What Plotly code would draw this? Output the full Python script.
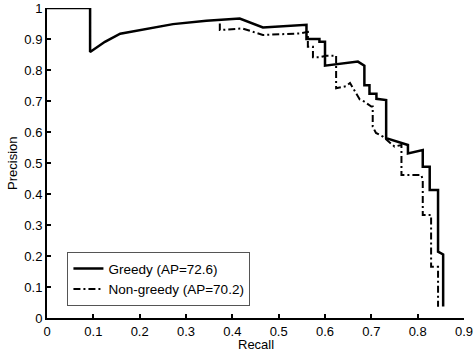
import plotly.graph_objects as go

# Greedy PR curve
greedy_recall = [0.0, 0.093, 0.093, 0.125, 0.158, 0.200, 0.272, 0.344, 0.416, 0.466, 0.545, 0.560,
                 0.560, 0.588, 0.588, 0.600, 0.600, 0.671, 0.685, 0.685, 0.696, 0.696, 0.711, 0.711,
                 0.732, 0.732, 0.779, 0.779, 0.811, 0.811, 0.826, 0.826, 0.844, 0.844, 0.855, 0.855]
greedy_precision = [1.0, 1.0, 0.858, 0.891, 0.917, 0.929, 0.948, 0.959, 0.966, 0.937, 0.945, 0.946,
                    0.900, 0.900, 0.891, 0.891, 0.814, 0.827, 0.814, 0.751, 0.751, 0.723, 0.723, 0.707,
                    0.703, 0.580, 0.558, 0.531, 0.542, 0.488, 0.488, 0.413, 0.413, 0.214, 0.205, 0.037]

# Non-greedy PR curve
nongreedy_recall = [0.373, 0.373, 0.422, 0.466, 0.545, 0.563, 0.563, 0.574, 0.574, 0.588, 0.603, 0.624,
                    0.624, 0.646, 0.654, 0.675, 0.685, 0.700, 0.703, 0.703, 0.710, 0.725, 0.750, 0.765,
                    0.765, 0.808, 0.811, 0.811, 0.829, 0.829, 0.844, 0.844]
nongreedy_precision = [0.950, 0.929, 0.934, 0.913, 0.918, 0.923, 0.875, 0.875, 0.841, 0.841, 0.846, 0.846,
                       0.741, 0.748, 0.758, 0.705, 0.698, 0.682, 0.682, 0.617, 0.597, 0.585, 0.553, 0.558,
                       0.461, 0.461, 0.445, 0.332, 0.332, 0.165, 0.165, 0.036]

series_names = ["Greedy (AP=72.6)", "Non-greedy (AP=70.2)"]

x_tickvals = [0, 0.1, 0.2, 0.3, 0.4, 0.5, 0.6, 0.7, 0.8, 0.9]
x_ticktext = ["0", "0.1", "0.2", "0.3", "0.4", "0.5", "0.6", "0.7", "0.8", "0.9"]
y_tickvals = [0, 0.1, 0.2, 0.3, 0.4, 0.5, 0.6, 0.7, 0.8, 0.9, 1.0]
y_ticktext = ["0", "0.1", "0.2", "0.3", "0.4", "0.5", "0.6", "0.7", "0.8", "0.9", "1"]
x_title = "Recall"
y_title = "Precision"

fig = go.Figure()
fig.add_trace(go.Scatter(x=greedy_recall, y=greedy_precision, mode="lines",
                         name=series_names[0],
                         line=dict(color="black", width=2.5)))
fig.add_trace(go.Scatter(x=nongreedy_recall, y=nongreedy_precision, mode="lines",
                         name=series_names[1],
                         line=dict(color="black", width=2, dash="7px,3px,2px,3px")))

FAM = "Liberation Sans, Arial, sans-serif"
axis_font = dict(family=FAM, size=13, color="black")

fig.update_layout(
    width=474, height=355,
    margin=dict(l=47, r=10, t=8, b=37, autoexpand=False),
    paper_bgcolor="white", plot_bgcolor="white",
    font=axis_font,
    showlegend=True,
    legend=dict(x=0.049, y=0.212, xanchor="left", yanchor="top",
                bordercolor="#555555", borderwidth=1, bgcolor="white",
                font=dict(family=FAM, size=13.5, color="black"),
                tracegroupgap=0, itemwidth=30),
    xaxis=dict(range=[0, 0.9], tickvals=x_tickvals, ticktext=x_ticktext,
               showline=True, linecolor="black", linewidth=2, mirror=False,
               ticks="inside", ticklen=4, tickwidth=2, tickcolor="black",
               showgrid=False, zeroline=False, automargin=False,
               ticklabeloverflow="allow"),
    yaxis=dict(range=[0, 1], tickvals=y_tickvals, ticktext=y_ticktext,
               showline=True, linecolor="black", linewidth=2, mirror=False,
               ticks="inside", ticklen=4, tickwidth=2, tickcolor="black",
               showgrid=False, zeroline=False, automargin=False,
               ticklabeloverflow="allow"),
    annotations=[
        dict(text=x_title, xref="paper", yref="paper", x=0.5, y=-0.087,
             xanchor="center", yanchor="middle", showarrow=False, font=axis_font),
        dict(text=y_title, xref="paper", yref="paper", x=-0.084, y=0.5,
             xanchor="center", yanchor="middle", textangle=-90, showarrow=False, font=axis_font),
    ],
)

fig.write_html("out.html", config={"displayModeBar": False})

# remove the default page margin so the figure sits at the window's top-left corner
with open("out.html", "r", encoding="utf-8") as f:
    html = f.read()
html = html.replace("<body>", '<body style="margin:0;padding:0;overflow:hidden">', 1)
with open("out.html", "w", encoding="utf-8") as f:
    f.write(html)
